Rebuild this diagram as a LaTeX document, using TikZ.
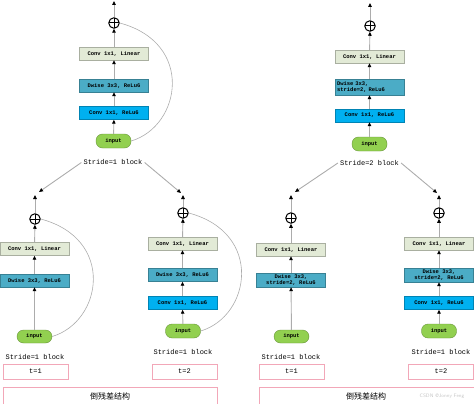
\documentclass[tikz,border=0pt]{standalone}
\usepackage{fontspec}
\setmainfont{Liberation Mono}
\newfontfamily\cjk{Noto Sans CJK SC}
\usetikzlibrary{arrows.meta}
\definecolor{linfill}{HTML}{E2EAD6}
\definecolor{dwfill}{HTML}{4BACC6}
\definecolor{expfill}{HTML}{00B0F0}
\definecolor{infill}{HTML}{92D050}
\definecolor{tagline}{HTML}{F2A7B8}

\begin{document}
\begin{tikzpicture}[
    x=1pt, y=-1pt,
    inner sep=0pt,
    flow/.style={draw=gray!65, line width=0.9pt,
      -{Triangle[length=4pt,width=3.5pt,color=black]}},
    skip/.style={draw=gray!65, line width=0.6pt},
    layer/.style={draw=#1!75!black, fill=#1, minimum width=69pt,
      minimum height=13pt, font=\fontsize{5.5}{6.5}\selectfont\bfseries},
    input/.style={draw=infill!70!black, fill=infill, rounded corners=6.5pt,
      minimum width=35pt, minimum height=14pt,
      font=\fontsize{5.5}{6.5}\selectfont\bfseries},
    sum/.style={circle, draw, line width=1pt, minimum size=10.5pt,
      path picture={\draw[line width=1pt]
        (path picture bounding box.north) -- (path picture bounding box.south)
        (path picture bounding box.west) -- (path picture bounding box.east);}},
    lbl/.style={inner sep=2pt, font=\fontsize{7}{8}\selectfont},
    tag/.style={draw=tagline, line width=0.8pt, minimum width=65pt,
      minimum height=15pt, font=\fontsize{7}{8}\selectfont}
  ]
  \useasboundingbox (0,0) rectangle (474,404);

  % stride=1 block, top left
  \coordinate (tA-top) at (114,1);
  \node (tA-sum) [sum] at (114,23) {};
  \node (tA-lin) [layer=linfill] at (114,53.5) {Conv 1x1, Linear};
  \node (tA-dw) [layer=dwfill] at (114,85.5) {Dwise 3x3, ReLu6};
  \node (tA-exp) [layer=expfill] at (114,113) {Conv 1x1, ReLu6};
  \node (tA-in) [input] at (113.5,141) {input};
  \node (tA-lbl) [lbl] at (113,162.5) {Stride=1 block};
  \draw[flow] (tA-in) -- (tA-exp);
  \draw[flow] (tA-exp) -- (tA-dw);
  \draw[flow] (tA-dw) -- (tA-lin);
  \draw[flow] (tA-lin) -- (tA-sum);
  \draw[flow] (tA-sum) -- (tA-top);
  \draw[skip] (tA-in.east) .. controls +(50,-15) and +(75,20) .. (tA-sum.east);

  % stride=2 block, top right
  \coordinate (tB-top) at (370,3);
  \node (tB-sum) [sum] at (370,26) {};
  \node (tB-lin) [layer=linfill] at (369.5,56.5) {Conv 1x1, Linear};
  \node (tB-dw) [layer=dwfill, minimum height=16pt, align=left,
    text width=65pt] at (369.5,87) {Dwise 3x3,\\stride=2, ReLu6};
  \node (tB-exp) [layer=expfill] at (369.5,115.5) {Conv 1x1, ReLu6};
  \node (tB-in) [input] at (369.5,144) {input};
  \node (tB-lbl) [lbl] at (369.5,163) {Stride=2 block};
  \draw[flow] (tB-in) -- (tB-exp);
  \draw[flow] (tB-exp) -- (tB-dw);
  \draw[flow] (tB-dw) -- (tB-lin);
  \draw[flow] (tB-lin) -- (tB-sum);
  \draw[flow] (tB-sum) -- (tB-top);

  % bottom row
  \coordinate (bA-top) at (35,195);
  \coordinate (bB-top) at (183,195);
  \coordinate (bC-top) at (291,195);
  \coordinate (bD-top) at (439,195);
  \coordinate (bA-end) at (39,192);
  \coordinate (bB-end) at (181,193);
  \coordinate (bC-end) at (295,192);
  \coordinate (bD-end) at (437,193);
  \draw[flow] (tA-lbl.west) -- (bA-end);
  \draw[flow] (tA-lbl.east) -- (bB-end);
  \draw[flow] (tB-lbl.west) -- (bC-end);
  \draw[flow] (tB-lbl.east) -- (bD-end);

  % t=1, stride=1
  \node (bA-sum) [sum] at (35,219) {};
  \node (bA-lin) [layer=linfill] at (34.5,249) {Conv 1x1, Linear};
  \node (bA-dw) [layer=dwfill] at (34.5,280.5) {Dwise 3x3, ReLu6};
  \node (bA-in) [input, minimum height=13pt] at (34.5,336.5) {input};
  \node (bA-lbl) [lbl] at (35,357) {Stride=1 block};
  \node (bA-tag) [tag] at (35.5,371.5) {t=1};
  \draw[flow] (bA-in) -- (bA-dw);
  \draw[flow] (bA-dw) -- (bA-lin);
  \draw[flow] (bA-lin) -- (bA-sum);
  \draw[flow] (bA-sum) -- (bA-top);
  \draw[skip] (bA-in.east) .. controls +(50,-15) and +(75,20) .. (bA-sum.east);

  % t=2, stride=1
  \node (bB-sum) [sum] at (183,213) {};
  \node (bB-lin) [layer=linfill] at (182.5,243.5) {Conv 1x1, Linear};
  \node (bB-dw) [layer=dwfill] at (182.5,275) {Dwise 3x3, ReLu6};
  \node (bB-exp) [layer=expfill] at (182.5,303) {Conv 1x1, ReLu6};
  \node (bB-in) [input] at (183,331) {input};
  \node (bB-lbl) [lbl] at (183,352) {Stride=1 block};
  \node (bB-tag) [tag] at (184.5,371.5) {t=2};
  \draw[flow] (bB-in) -- (bB-exp);
  \draw[flow] (bB-exp) -- (bB-dw);
  \draw[flow] (bB-dw) -- (bB-lin);
  \draw[flow] (bB-lin) -- (bB-sum);
  \draw[flow] (bB-sum) -- (bB-top);
  \draw[skip] (bB-in.east) .. controls +(50,-15) and +(75,20) .. (bB-sum.east);

  % t=1, stride=2
  \node (bC-sum) [sum] at (291,218) {};
  \node (bC-lin) [layer=linfill] at (291,249.5) {Conv 1x1, Linear};
  \node (bC-dw) [layer=dwfill, minimum height=14pt, align=center]
    at (291,280) {Dwise 3x3,\\stride=2, ReLu6};
  \node (bC-in) [input, minimum height=13pt] at (291.5,336.5) {input};
  \node (bC-lbl) [lbl] at (291,357) {Stride=1 block};
  \node (bC-tag) [tag] at (291.5,371.5) {t=1};
  \draw[flow] (bC-in) -- (bC-dw);
  \draw[flow] (bC-dw) -- (bC-lin);
  \draw[flow] (bC-lin) -- (bC-sum);
  \draw[flow] (bC-sum) -- (bC-top);

  % t=2, stride=2
  \node (bD-sum) [sum] at (439,213) {};
  \node (bD-lin) [layer=linfill] at (439,243.5) {Conv 1x1, Linear};
  \node (bD-dw) [layer=dwfill, minimum height=14pt, align=center]
    at (439,275) {Dwise 3x3,\\stride=2, ReLu6};
  \node (bD-exp) [layer=expfill] at (439,303) {Conv 1x1, ReLu6};
  \node (bD-in) [input] at (439,331) {input};
  \node (bD-lbl) [lbl] at (441,352) {Stride=1 block};
  \node (bD-tag) [tag] at (441,371.5) {t=2};
  \draw[flow] (bD-in) -- (bD-exp);
  \draw[flow] (bD-exp) -- (bD-dw);
  \draw[flow] (bD-dw) -- (bD-lin);
  \draw[flow] (bD-lin) -- (bD-sum);
  \draw[flow] (bD-sum) -- (bD-top);

  % captions
  \draw[draw=tagline, line width=0.8pt] (3,387) rectangle (217,410);
  \draw[draw=tagline, line width=0.8pt] (259,387) rectangle (480,410);
  \node (capL) [font=\cjk\fontsize{8}{9}\selectfont] at (110,396) {倒残差结构};
  \node (capR) [font=\cjk\fontsize{8}{9}\selectfont] at (366,396) {倒残差结构};
  \node (mark) [font=\sffamily\fontsize{5}{6}\selectfont, text=gray!45]
    at (442,396) {CSDN @Jonny Feng};
\end{tikzpicture}
\end{document}
